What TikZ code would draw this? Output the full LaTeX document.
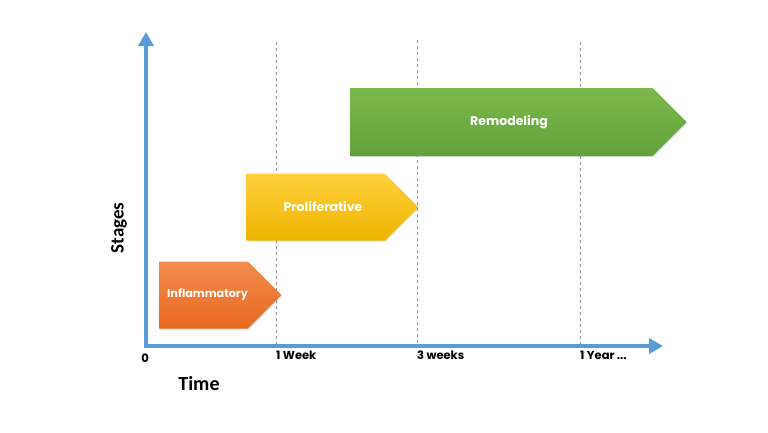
\documentclass[tikz,border=0pt]{standalone}
\usepackage{fontspec}
\setmainfont{Carlito}
\newfontfamily\stagefont{Poppins}
\usepackage{tikz}
\usetikzlibrary{shapes.symbols, arrows.meta, positioning, shadows}
\definecolor{axisblue}{RGB}{91,155,213}
\definecolor{tickgray}{RGB}{150,150,150}
\definecolor{orgtop}{RGB}{242,140,80}
\definecolor{orgbot}{RGB}{232,104,30}
\definecolor{yeltop}{RGB}{255,208,60}
\definecolor{yelbot}{RGB}{238,180,0}
\definecolor{grntop}{RGB}{124,184,76}
\definecolor{grnbot}{RGB}{96,162,58}
\newcommand{\nudge}[2]{\hspace{#1}#2\hspace{-#1}}
\tikzset{
  stage/.style={signal, signal to=east, signal pointer angle=90, draw=none, text=white, font=\stagefont\bfseries\fontsize{12.5}{14}\selectfont, minimum height=67pt, inner sep=0pt, drop shadow={shadow xshift=1pt, shadow yshift=-1pt, opacity=0.25}},
  axis/.style={line width=4pt, color=axisblue, {Triangle[width=15pt,length=14pt]}-{Triangle[width=15pt,length=14pt]}},
  tick/.style={dashed, color=tickgray, line width=1pt},
  ticklabel/.style={font=\stagefont\bfseries\fontsize{11.5}{13}\selectfont, anchor=north west, inner sep=0pt}
}

\begin{document}
\begin{tikzpicture}[x=1pt, y=-1pt]
  \useasboundingbox (0,0) rectangle (768,432);

  \coordinate (orig) at (146,346);
  \coordinate (ytip) at (146,32);
  \coordinate (xtip) at (663,346);

  % week marks
  \coordinate (wk1) at (276,42);
  \coordinate (wk3) at (417,40);
  \coordinate (yr1) at (580,42);
  \draw [tick] (wk1) -- (wk1 |- orig);
  \draw [tick] (wk3) -- (wk3 |- orig);
  \draw [tick] (yr1) -- (yr1 |- orig);

  % stages
  \node [stage, top color=orgtop, bottom color=orgbot, minimum width=119pt, font=\stagefont\bfseries\fontsize{11.2}{14}\selectfont] (infl) at (203.5,295) {\nudge{8pt}{Inflammatory}};
  \node [stage, top color=yeltop, bottom color=yelbot, minimum width=172pt] (prolif) at (315.5,207) {\nudge{15pt}{Proliferative}};
  \node [stage, top color=grntop, bottom color=grnbot, minimum width=336pt, minimum height=68pt] (remod) at (501.5,122) {\nudge{15pt}{Remodeling}};

  \draw [axis] (ytip) |- (xtip);

  % labels
  \node [font=\stagefont\bfseries\fontsize{11.5}{13}\selectfont, inner sep=0pt] (zero) at (145,358) {0};
  \node [ticklabel] (lwk1) at (wk1 |- 0,351) {1 Week};
  \node [ticklabel] (lwk3) at (wk3 |- 0,351) {3 weeks};
  \node [ticklabel] (lyr1) at (yr1 |- 0,351) {1 Year ...};

  \node [font=\bfseries\fontsize{20}{24}\selectfont] (time) at (199,384) {Time};
  \node [font=\bfseries\fontsize{19}{22}\selectfont, rotate=90] (stages) at (119,228) {Stages};
\end{tikzpicture}
\end{document}
